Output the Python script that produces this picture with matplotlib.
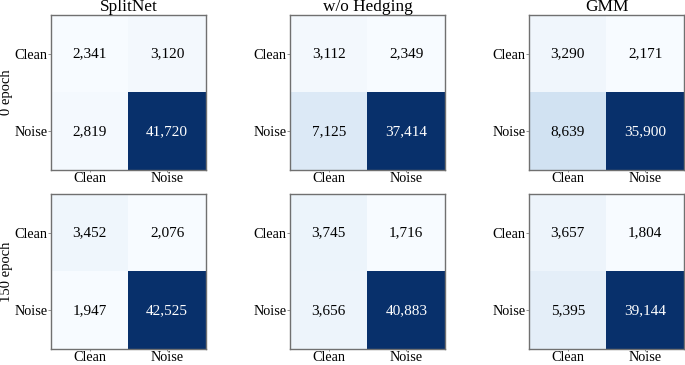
import matplotlib
matplotlib.use('Agg')
import numpy as np
import matplotlib.pyplot as plt

plt.rcParams['font.family'] = ['Liberation Serif', 'DejaVu Serif']

# 数据
methods = ['SplitNet', 'w/o Hedging', 'GMM']
epochs = ['0 epoch', '150 epoch']
labels = ['Clean', 'Noise']

splitnet_0 = [[2341, 3120], [2819, 41720]]
hedging_0 = [[3112, 2349], [7125, 37414]]
gmm_0 = [[3290, 2171], [8639, 35900]]
splitnet_150 = [[3452, 2076], [1947, 42525]]
hedging_150 = [[3745, 1716], [3656, 40883]]
gmm_150 = [[3657, 1804], [5395, 39144]]

matrices = [[splitnet_0, hedging_0, gmm_0],
            [splitnet_150, hedging_150, gmm_150]]

fig = plt.figure(figsize=(6.85, 3.65), dpi=100)

lefts = [51, 290, 529]
tops = [15, 194]
size = 155
W, H = 685, 365

for r in range(2):
    for c in range(3):
        ax = fig.add_axes([lefts[c] / W, 1 - (tops[r] + size) / H, size / W, size / H])
        m = np.array(matrices[r][c])
        ax.imshow(m, cmap='Blues', aspect='auto')
        thresh = (m.max() + m.min()) / 2
        for i in range(2):
            for j in range(2):
                ax.text(j, i, f'{m[i, j]:,}', ha='center', va='center', fontsize=11,
                        color='white' if m[i, j] > thresh else 'black')
        ax.set_xticks([0, 1])
        ax.set_yticks([0, 1])
        ax.set_xticklabels(labels, fontsize=10.3)
        ax.set_yticklabels(labels, fontsize=10.3)
        ax.tick_params(axis='y', length=2, width=0.6, color='#808080', pad=0.5)
        ax.tick_params(axis='x', length=1.5, width=0.6, color='#808080', pad=-0.3)
        for s in ax.spines.values():
            s.set_color('#707070')
            s.set_linewidth(1.0)
        if r == 0:
            ax.set_title(methods[c], fontsize=12.4, pad=1.5)

# 行标签
for r in range(2):
    yc = 1 - (tops[r] + size / 2) / H
    fig.text(7 / W, yc, epochs[r], rotation=90, ha='center', va='center', fontsize=10.5)

fig.savefig('out.png', dpi=100)
